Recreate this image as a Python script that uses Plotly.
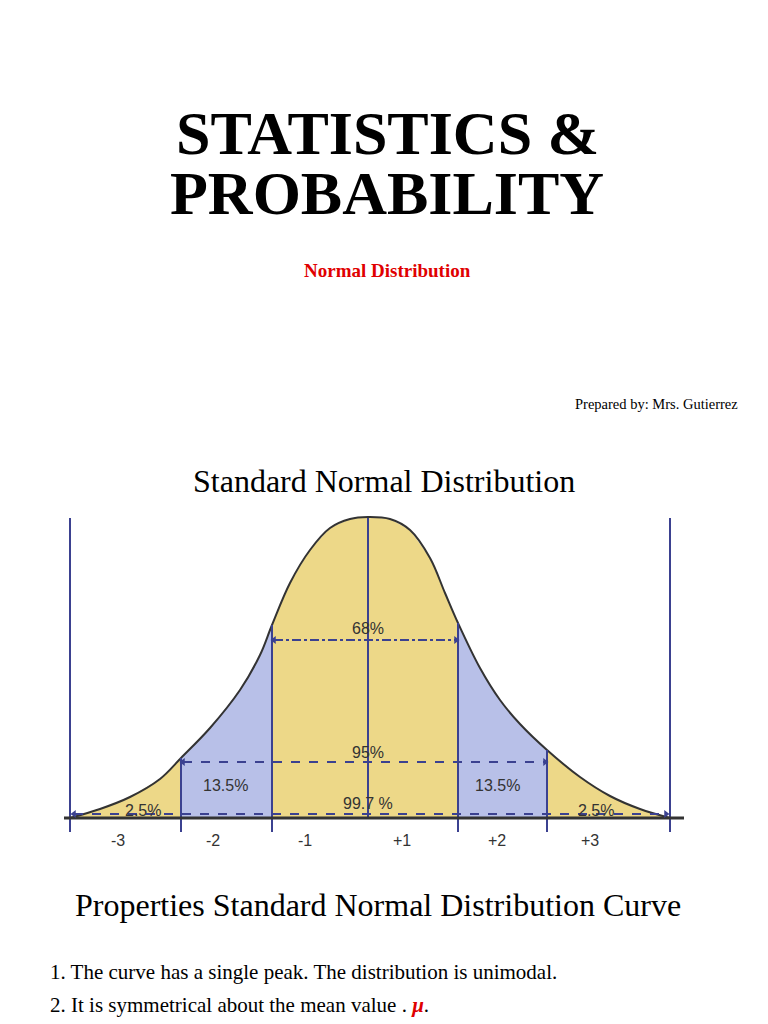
import plotly.graph_objects as go

# curve (x px, y px; baseline 818)
curve_x = [70, 100, 130, 160, 181, 210, 240, 260, 272, 290, 310, 330, 350, 368, 390, 410, 430, 445, 458, 480, 500, 520, 547, 580, 610, 640, 670]
curve_y = [818, 809, 797, 779, 758, 728, 690, 655, 625, 583, 550, 528, 519, 517, 519, 530, 558, 593, 623, 668, 700, 724, 750, 777, 796, 809, 818]
bounds = [70, 181, 272, 368, 458, 547, 670]
region_colors = ["#EDD888", "#B8C0E8", "#EDD888", "#EDD888", "#B8C0E8", "#EDD888"]
tick_labels = ["-3", "-2", "-1", "+1", "+2", "+3"]
tick_pos = [118, 213, 305, 402, 497, 590]
pct_labels = ["68%", "95%", "99.7 %", "13.5%", "13.5%", "2.5%", "2.5%"]
pct_x = [368, 368, 368, 225, 497, 143, 596]
pct_y = [628, 752, 803, 785, 785, 810, 810]
BASE = 818
NAVY = "#3B4190"

def interp(x):
    for i in range(len(curve_x) - 1):
        if curve_x[i] <= x <= curve_x[i + 1]:
            t = (x - curve_x[i]) / (curve_x[i + 1] - curve_x[i])
            return curve_y[i] + t * (curve_y[i + 1] - curve_y[i])
    return BASE

fig = go.Figure()
for i in range(len(bounds) - 1):
    a, b = bounds[i], bounds[i + 1]
    xs = [a] + [x for x in curve_x if a < x < b] + [b]
    ys = [interp(a)] + [y for x, y in zip(curve_x, curve_y) if a < x < b] + [interp(b)]
    fig.add_trace(go.Scatter(x=xs + [b, a], y=ys + [BASE, BASE], fill="toself",
                             fillcolor=region_colors[i], line=dict(width=0), mode="lines",
                             hoverinfo="skip", showlegend=False))
fig.add_trace(go.Scatter(x=curve_x, y=curve_y, mode="lines", line=dict(color="#333", width=2, shape="spline"),
                         showlegend=False))
for bx in bounds:
    top = 518 if bx in (70, 670, 368) else interp(bx)
    bot = 818 if bx == 368 else 832
    fig.add_trace(go.Scatter(x=[bx, bx], y=[top, bot], mode="lines", line=dict(color=NAVY, width=2), showlegend=False))
fig.add_trace(go.Scatter(x=[64, 684], y=[BASE, BASE], mode="lines", line=dict(color="#333", width=3), showlegend=False))
arrows = [(272, 458, 640, "dashdot"), (181, 547, 762, "dash"), (72, 668, 814, "dash")]
for a, b, y, d in arrows:
    fig.add_trace(go.Scatter(x=[a + 2, b - 2], y=[y, y], mode="lines+markers",
                             line=dict(color=NAVY, width=2, dash=d),
                             marker=dict(symbol=["triangle-left", "triangle-right"], size=7, color=NAVY),
                             showlegend=False))

ann = []
def T(x, y, s, size, fam="Liberation Serif", color="black", bold=False, xa="center"):
    ann.append(dict(x=x, y=y, text=("<b>%s</b>" % s) if bold else s, showarrow=False, xanchor=xa, yanchor="middle",
                    font=dict(size=size, family=fam, color=color)))

T(387, 133, "STATISTICS &amp;", 62, bold=True)
T(387, 193, "PROBABILITY", 62, bold=True)
T(387, 270, "Normal Distribution", 19, color="#E00000", bold=True)
T(740, 404, "Prepared by: Mrs. Gutierrez", 14.5, xa="right")
T(384, 481, "Standard Normal Distribution", 32)
for s, x, y in zip(pct_labels, pct_x, pct_y):
    T(x, y, s, 16, fam="Liberation Sans", color="#333")
for s, x in zip(tick_labels, tick_pos):
    T(x, 840, s, 16, fam="Liberation Sans", color="#333")
T(378, 905, "Properties Standard Normal Distribution Curve", 32)
T(48, 972, "1. The curve has a single peak. The distribution is unimodal.", 21, xa="left")
T(48, 1005, "2. It is symmetrical about the mean value . <span style='color:#E00000'><b><i>μ</i></b></span>.", 21, xa="left")

fig.update_layout(width=768, height=1024, margin=dict(l=0, r=0, t=0, b=0),
                  plot_bgcolor="white", paper_bgcolor="white", annotations=ann,
                  xaxis=dict(range=[8, 776], visible=False, fixedrange=True),
                  yaxis=dict(range=[1032, 8], visible=False, fixedrange=True))
fig.write_html("out.html")
